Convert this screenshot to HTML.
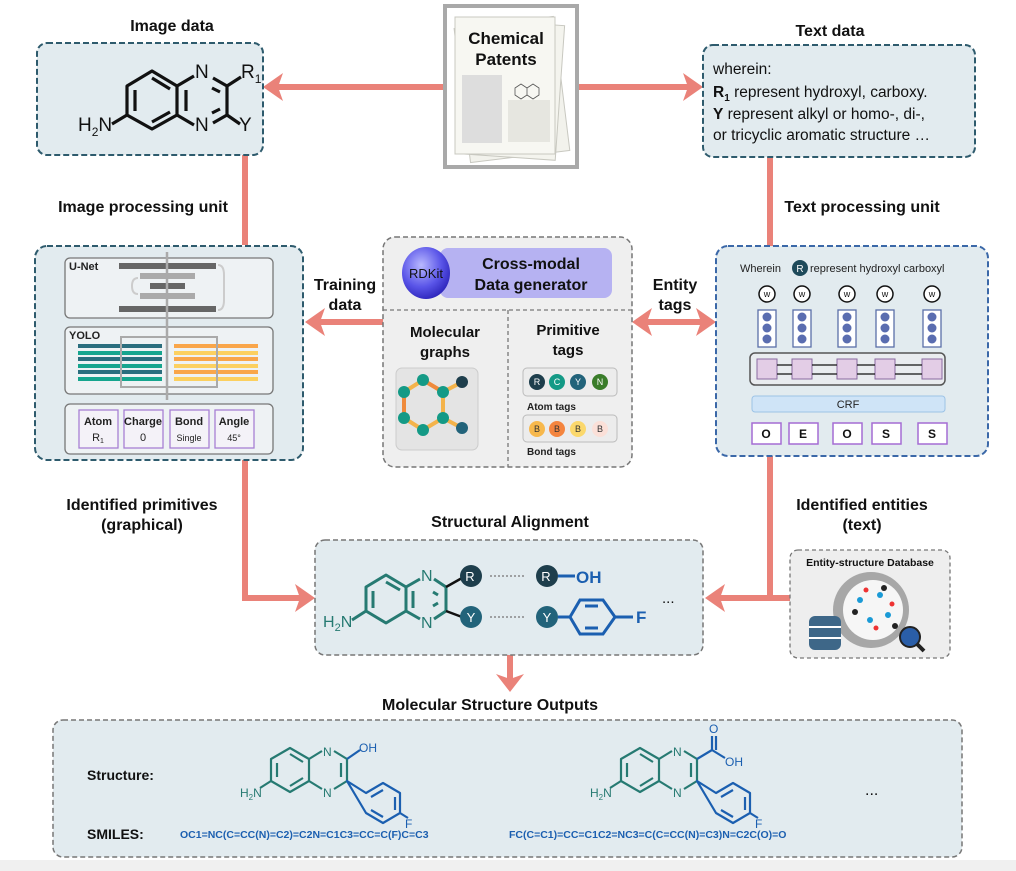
<!DOCTYPE html>
<html><head><meta charset="utf-8"><style>
html,body{margin:0;padding:0;background:#fff}
svg{display:block;font-family:"Liberation Sans",Arial,sans-serif}
.b{font-weight:bold}
</style></head><body>
<svg width="1016" height="871" viewBox="0 0 1016 871" xmlns="http://www.w3.org/2000/svg">
<defs>
<radialGradient id="rd" cx="0.4" cy="0.35" r="0.7"><stop offset="0" stop-color="#b9b9ff"/><stop offset="0.6" stop-color="#5a55e8"/><stop offset="1" stop-color="#2a22b8"/></radialGradient>
</defs>
<rect x="0" y="860" width="1016" height="11" fill="#f0f0f0"/>

<g stroke="#ea8279" stroke-width="6" fill="none">
<line x1="443" y1="87" x2="272" y2="87"/>
<line x1="577" y1="87" x2="694" y2="87"/>
<line x1="245" y1="155" x2="245" y2="245"/>
<line x1="770" y1="157" x2="770" y2="246"/>
<line x1="383" y1="322" x2="314" y2="322"/>
<line x1="645" y1="322" x2="703" y2="322"/>
<polyline points="245,460 245,598 305,598"/>
<polyline points="770,456 770,598 716,598"/>
<line x1="770" y1="598" x2="790" y2="598"/>
<line x1="510" y1="655" x2="510" y2="680"/>
</g>
<g fill="#ea8279">
<polygon points="263,87 283,73 278,87 283,101"/>
<polygon points="703,87 683,73 688,87 683,101"/>
<polygon points="305,322 325,308 320,322 325,336"/>
<polygon points="632,322 652,308 647,322 652,336"/>
<polygon points="716,322 696,308 701,322 696,336"/>
<polygon points="315,598 295,584 300,598 295,612"/>
<polygon points="705,598 725,584 720,598 725,612"/>
<polygon points="510,692 496,674 510,679 524,674"/>
</g>

<g class="b" font-size="16" fill="#111" text-anchor="middle">
<text x="172" y="31">Image data</text>
<text x="830" y="36">Text data</text>
<text x="143" y="212">Image processing unit</text>
<text x="862" y="212">Text processing unit</text>
<text x="345" y="290">Training</text><text x="345" y="310">data</text>
<text x="675" y="290">Entity</text><text x="675" y="310">tags</text>
<text x="142" y="510">Identified primitives</text><text x="142" y="530">(graphical)</text>
<text x="862" y="510">Identified entities</text><text x="862" y="530">(text)</text>
<text x="510" y="527">Structural  Alignment</text>
<text x="490" y="710">Molecular Structure Outputs</text>
</g>

<!-- Image data box -->
<rect x="37" y="43" width="226" height="112" rx="10" fill="#e2ebef" stroke="#2e5b6d" stroke-width="2" stroke-dasharray="6,3"/>
<g stroke="#111" stroke-width="3.2" fill="none" stroke-linejoin="round">
<path d="M152,71 L177,86 L177,115 L152,129 L127,115 L127,86 Z"/>
<path d="M177,86 L194,76 M177,115 L194,125"/>
<path d="M213,78 L227,86 L227,115 L213,123"/>
<path d="M227,86 L241,77 M227,115 L240,124 M127,115 L112,124"/>
<path d="M135,90 L135,111 M152,78 L170,89 M152,122 L170,112 M186,90 L186,111 M212,88 L220,92 M212,113 L220,109"/>
</g>
<g font-size="19" fill="#111">
<text x="195" y="78">N</text><text x="195" y="131">N</text>
<text x="241" y="78">R<tspan font-size="12" dy="5">1</tspan></text>
<text x="239" y="131">Y</text>
<text x="78" y="131">H<tspan font-size="12" dy="5">2</tspan><tspan dy="-5">N</tspan></text>
</g>

<!-- Patents -->
<rect x="445" y="6" width="132" height="161" fill="#fff" stroke="#a9a9a9" stroke-width="4"/>
<g stroke="#c8c8c0" stroke-width="1">
<rect x="462" y="22" width="100" height="135" fill="#f2f2ec" transform="rotate(-7 512 90)"/>
<rect x="460" y="22" width="100" height="135" fill="#f4f4ee" transform="rotate(4 510 90)"/>
<rect x="455" y="17" width="100" height="137" fill="#f7f7f2"/>
</g>
<g fill="#ddd"><rect x="462" y="75" width="40" height="68"/><rect x="508" y="100" width="42" height="42" fill="#e6e6e0"/></g>
<path d="M515,88 l6,-4 6,4 0,7 -6,4 -6,-4z M527,88 l6,-4 6,4 0,7 -6,4 -6,-4z" stroke="#555" stroke-width="0.8" fill="none"/>
<g class="b" font-size="17" fill="#111" text-anchor="middle"><text x="506" y="44">Chemical</text><text x="506" y="65">Patents</text></g>

<!-- Text data box -->
<rect x="703" y="45" width="272" height="112" rx="10" fill="#e2ebef" stroke="#2e5b6d" stroke-width="2" stroke-dasharray="6,3"/>
<g font-size="15.5" fill="#111">
<text x="713" y="74">wherein:</text>
<text x="713" y="97"><tspan class="b">R<tspan font-size="10" dy="4">1</tspan></tspan><tspan dy="-4"> represent hydroxyl, carboxy.</tspan></text>
<text x="713" y="119"><tspan class="b">Y</tspan> represent alkyl or homo-, di-,</text>
<text x="713" y="140">or tricyclic aromatic structure …</text>
</g>

<!-- Image processing unit -->
<rect x="35" y="246" width="268" height="214" rx="12" fill="#e2ebef" stroke="#2e5b6d" stroke-width="2" stroke-dasharray="6,3"/>
<rect x="65" y="258" width="208" height="60" rx="5" fill="#eef2f4" stroke="#777" stroke-width="1.3"/>
<rect x="65" y="327" width="208" height="67" rx="5" fill="#eef2f4" stroke="#777" stroke-width="1.3"/>
<rect x="65" y="404" width="208" height="50" rx="5" fill="#eef2f4" stroke="#777" stroke-width="1.3"/>
<g fill="#666"><rect x="119" y="263" width="97" height="6"/><rect x="150" y="283" width="35" height="6"/><rect x="119" y="306" width="97" height="6"/></g>
<g fill="#aaa"><rect x="140" y="273" width="55" height="6"/><rect x="140" y="293" width="55" height="6"/></g>
<path d="M138,278 q-6,0 -6,8 q0,8 6,8 M218,265 q6,0 6,10 v25 q0,10 -6,10" stroke="#ccc" stroke-width="2" fill="none"/>
<g fill="#2a6e7e"><rect x="78" y="344" width="84" height="4"/><rect x="78" y="357" width="84" height="4"/><rect x="78" y="370" width="84" height="4"/></g>
<g fill="#16a58e"><rect x="78" y="351" width="84" height="4"/><rect x="78" y="364" width="84" height="4"/><rect x="78" y="377" width="84" height="4"/></g>
<g fill="#f9a64a"><rect x="174" y="344" width="84" height="4"/><rect x="174" y="357" width="84" height="4"/><rect x="174" y="370" width="84" height="4"/></g>
<g fill="#fcd060"><rect x="174" y="351" width="84" height="4"/><rect x="174" y="364" width="84" height="4"/><rect x="174" y="377" width="84" height="4"/></g>
<rect x="121" y="337" width="96" height="50" fill="none" stroke="#aaa" stroke-width="2"/>
<line x1="167" y1="252" x2="167" y2="400" stroke="#aaa" stroke-width="2.5"/>
<g class="b" font-size="11" fill="#222"><text x="69" y="270">U-Net</text><text x="69" y="339">YOLO</text></g>
<g fill="#f4f2f8" stroke="#a77fd4" stroke-width="1.3">
<rect x="79" y="410" width="39" height="38"/><rect x="124" y="410" width="39" height="38"/><rect x="170" y="410" width="39" height="38"/><rect x="215" y="410" width="39" height="38"/>
</g>
<g font-size="11" fill="#222" text-anchor="middle">
<text class="b" x="98" y="425">Atom</text><text x="98" y="441">R<tspan font-size="7" dy="2">1</tspan></text>
<text class="b" x="143" y="425">Charge</text><text x="143" y="441">0</text>
<text class="b" x="189" y="425">Bond</text><text x="189" y="441" font-size="9">Single</text>
<text class="b" x="234" y="425">Angle</text><text x="234" y="441" font-size="9">45°</text>
</g>

<!-- Center generator -->
<rect x="383" y="237" width="249" height="230" rx="12" fill="#efefef" stroke="#777" stroke-width="1.5" stroke-dasharray="5,3"/>
<rect x="440" y="248" width="172" height="50" rx="8" fill="#b6b2f2"/>
<ellipse cx="426" cy="273" rx="24" ry="26" fill="url(#rd)"/>
<text x="426" y="278" font-size="13" fill="#111" text-anchor="middle">RDKit</text>
<g class="b" font-size="16" fill="#111" text-anchor="middle"><text x="531" y="269">Cross-modal</text><text x="531" y="290">Data generator</text></g>
<path d="M383,310 H632 M508,310 V467" stroke="#777" stroke-width="1.3" stroke-dasharray="4,3"/>
<g class="b" font-size="15" fill="#111" text-anchor="middle">
<text x="445" y="337">Molecular</text><text x="445" y="357">graphs</text>
<text x="568" y="335">Primitive</text><text x="568" y="355">tags</text>
</g>
<rect x="396" y="368" width="82" height="82" rx="6" fill="#e4e4e4" stroke="#ccc"/>
<g stroke-width="4" fill="none">
<path d="M423,380 L443,392 L443,418 L423,430 L404,418 L404,392 Z" stroke="#f4b34a"/>
<path d="M443,392 L462,382 M443,418 L462,428" stroke="#f4b34a"/>
<path d="M404,392 L404,418 M443,392 L423,380" stroke="#ef8a3c"/>
</g>
<g fill="#149a86"><circle cx="423" cy="380" r="6"/><circle cx="443" cy="392" r="6"/><circle cx="443" cy="418" r="6"/><circle cx="423" cy="430" r="6"/><circle cx="404" cy="418" r="6"/><circle cx="404" cy="392" r="6"/></g>
<circle cx="462" cy="382" r="6" fill="#1e3e4c"/><circle cx="462" cy="428" r="6" fill="#22637a"/>
<rect x="523" y="368" width="94" height="28" rx="4" fill="#ececec" stroke="#bbb"/>
<rect x="523" y="415" width="94" height="27" rx="4" fill="#ececec" stroke="#bbb"/>
<circle cx="537" cy="382" r="8" fill="#1e3e4c"/><circle cx="557" cy="382" r="8" fill="#149a86"/><circle cx="578" cy="382" r="8" fill="#22637a"/><circle cx="600" cy="382" r="8" fill="#3a7d2a"/>
<circle cx="537" cy="429" r="8" fill="#f7b84c"/><circle cx="557" cy="429" r="8" fill="#f4853f"/><circle cx="578" cy="429" r="8" fill="#fbd86c"/><circle cx="600" cy="429" r="8" fill="#fbe0d8"/>
<g font-size="9" text-anchor="middle" fill="#fff"><text x="537" y="385">R</text><text x="557" y="385">C</text><text x="578" y="385">Y</text><text x="600" y="385">N</text></g>
<g font-size="9" text-anchor="middle" fill="#333"><text x="537" y="432">B</text><text x="557" y="432">B</text><text x="578" y="432">B</text><text x="600" y="432">B</text></g>
<g class="b" font-size="10" fill="#222"><text x="527" y="410">Atom tags</text><text x="527" y="455">Bond tags</text></g>

<!-- Text processing unit -->
<rect x="716" y="246" width="272" height="210" rx="12" fill="#e2ebef" stroke="#3b68a8" stroke-width="2" stroke-dasharray="6,3"/>
<text x="740" y="272" font-size="11" fill="#222">Wherein</text>
<circle cx="800" cy="268" r="8" fill="#1e4a5a"/><text x="800" y="272" font-size="10" fill="#fff" text-anchor="middle">R</text>
<text x="810" y="272" font-size="11" fill="#222">represent hydroxyl carboxyl</text>
<g fill="#fff" stroke="#111" stroke-width="1.5"><circle cx="767" cy="294" r="8"/><circle cx="802" cy="294" r="8"/><circle cx="847" cy="294" r="8"/><circle cx="885" cy="294" r="8"/><circle cx="932" cy="294" r="8"/></g>
<g font-size="9" fill="#111" text-anchor="middle"><text x="767" y="297">w</text><text x="802" y="297">w</text><text x="847" y="297">w</text><text x="885" y="297">w</text><text x="932" y="297">w</text></g>
<g fill="#fff" stroke="#5a6fa8" stroke-width="1.3"><rect x="758" y="310" width="18" height="37"/><rect x="793" y="310" width="18" height="37"/><rect x="838" y="310" width="18" height="37"/><rect x="876" y="310" width="18" height="37"/><rect x="923" y="310" width="18" height="37"/></g>
<g fill="#5a6db0">
<circle cx="767" cy="317" r="4.5"/><circle cx="767" cy="328" r="4.5"/><circle cx="767" cy="339" r="4.5"/>
<circle cx="802" cy="317" r="4.5"/><circle cx="802" cy="328" r="4.5"/><circle cx="802" cy="339" r="4.5"/>
<circle cx="847" cy="317" r="4.5"/><circle cx="847" cy="328" r="4.5"/><circle cx="847" cy="339" r="4.5"/>
<circle cx="885" cy="317" r="4.5"/><circle cx="885" cy="328" r="4.5"/><circle cx="885" cy="339" r="4.5"/>
<circle cx="932" cy="317" r="4.5"/><circle cx="932" cy="328" r="4.5"/><circle cx="932" cy="339" r="4.5"/>
</g>
<rect x="750" y="353" width="195" height="32" rx="5" fill="#e9ecef" stroke="#555" stroke-width="1.5"/>
<g fill="#e3cde6" stroke="#8a6aa0"><rect x="757" y="359" width="20" height="20"/><rect x="792" y="359" width="20" height="20"/><rect x="837" y="359" width="20" height="20"/><rect x="875" y="359" width="20" height="20"/><rect x="922" y="359" width="20" height="20"/></g>
<g stroke="#111" stroke-width="1.2"><path d="M777,365 H792 M812,365 H837 M857,365 H875 M895,365 H922 M777,374 H792 M812,374 H837 M857,374 H875 M895,374 H922"/></g>
<rect x="752" y="396" width="193" height="16" rx="3" fill="#cfe4f7" stroke="#9cc3e6"/>
<text x="848" y="408" font-size="11" fill="#222" text-anchor="middle">CRF</text>
<g fill="#fff" stroke="#a46cd4" stroke-width="1.5"><rect x="752" y="423" width="29" height="21"/><rect x="789" y="423" width="29" height="21"/><rect x="833" y="423" width="29" height="21"/><rect x="872" y="423" width="29" height="21"/><rect x="918" y="423" width="29" height="21"/></g>
<g class="b" font-size="12" fill="#111" text-anchor="middle"><text x="766" y="438">O</text><text x="803" y="438">E</text><text x="847" y="438">O</text><text x="886" y="438">S</text><text x="932" y="438">S</text></g>

<!-- Alignment box -->
<rect x="315" y="540" width="388" height="115" rx="10" fill="#e2ebef" stroke="#777" stroke-width="1.5" stroke-dasharray="5,3"/>
<g stroke="#267a72" stroke-width="3" fill="none" stroke-linejoin="round">
<path d="M386,575 L406,587 L406,611 L386,623 L366,611 L366,587 Z"/>
<path d="M406,587 L420,579 M406,611 L420,619 M434,579 L446,587 L446,611 L434,619 M366,611 L352,620"/>
<path d="M373,591 L373,608 M386,582 L400,590 M413,591 L413,608 M433,592 L438,595 M433,606 L438,603"/>
</g>
<path d="M446,587 L462,578 M446,611 L462,617" stroke="#111" stroke-width="2.5"/>
<g font-size="16" fill="#267a72"><text x="421" y="581">N</text><text x="421" y="628">N</text><text x="323" y="627">H<tspan font-size="11" dy="4">2</tspan><tspan dy="-4">N</tspan></text></g>
<circle cx="471" cy="576" r="11" fill="#1e3e4c"/><circle cx="471" cy="617" r="11" fill="#22637a"/>
<circle cx="547" cy="576" r="11" fill="#1e3e4c"/><circle cx="547" cy="617" r="11" fill="#22637a"/>
<g font-size="13" fill="#fff" text-anchor="middle"><text x="470" y="581">R</text><text x="471" y="622">Y</text><text x="546" y="581">R</text><text x="547" y="622">Y</text></g>
<g stroke="#888" stroke-width="1.5" stroke-dasharray="2,2"><line x1="490" y1="576" x2="526" y2="576"/><line x1="490" y1="617" x2="526" y2="617"/></g>
<path d="M558,576 H575 M558,617 H570 L580,600 H603 L615,617 L603,634 H580 L570,617 M615,617 H633 M585,606 H598 M585,628 H598" stroke="#1b5fb0" stroke-width="3" fill="none"/>
<g class="b" font-size="17" fill="#1b5fb0"><text x="576" y="583">OH</text><text x="636" y="623">F</text></g>
<text x="662" y="603" font-size="15" fill="#111">...</text>

<!-- DB box -->
<rect x="790" y="550" width="160" height="108" rx="8" fill="#eee" stroke="#777" stroke-width="1.3" stroke-dasharray="4,3"/>
<text x="870" y="566" class="b" font-size="10.5" fill="#111" text-anchor="middle">Entity-structure Database</text>
<circle cx="871" cy="610" r="38" fill="#a7a7a7"/><circle cx="873" cy="610" r="30" fill="#f6f6f6"/>
<g fill="#1a9ad6"><circle cx="860" cy="600" r="3"/><circle cx="880" cy="595" r="3"/><circle cx="870" cy="620" r="3"/><circle cx="888" cy="615" r="3"/></g>
<g fill="#e33"><circle cx="866" cy="590" r="2.5"/><circle cx="892" cy="604" r="2.5"/><circle cx="876" cy="628" r="2.5"/></g>
<g fill="#222"><circle cx="855" cy="612" r="3"/><circle cx="884" cy="588" r="3"/><circle cx="895" cy="626" r="3"/></g>
<rect x="809" y="616" width="32" height="34" rx="6" fill="#3e6788"/>
<path d="M809,627 H841 M809,638 H841" stroke="#fff" stroke-width="2"/>
<circle cx="910" cy="637" r="10" fill="#2a5ea8" stroke="#222" stroke-width="2"/><line x1="917" y1="644" x2="924" y2="651" stroke="#222" stroke-width="4"/>

<!-- Bottom output box -->
<rect x="53" y="720" width="909" height="137" rx="10" fill="#e2ebef" stroke="#777" stroke-width="1.5" stroke-dasharray="5,3"/>
<g class="b" font-size="14" fill="#111"><text x="87" y="780">Structure:</text><text x="87" y="839">SMILES:</text></g>
<g class="b" font-size="10.5" fill="#1b5fb0">
<text x="180" y="838">OC1=NC(C=CC(N)=C2)=C2N=C1C3=CC=C(F)C=C3</text>
<text x="509" y="838">FC(C=C1)=CC=C1C2=NC3=C(C=CC(N)=C3)N=C2C(O)=O</text>
</g>
<!-- molecule 1 -->
<g stroke="#267a72" stroke-width="2.2" fill="none" stroke-linejoin="round">
<path d="M290,748 L309,759 L309,781 L290,792 L271,781 L271,759 Z M309,759 L322,751 M309,781 L322,789 M271,781 L260,788"/>
<path d="M277,763 L277,777 M290,754 L303,762 M290,786 L303,778"/>
<path d="M334,751 L347,759 L347,781 L334,789 M341,763 L341,777"/>
</g>
<path d="M347,759 L360,750 M347,781 L366,793 L383,783 L400,793 L400,813 L383,823 L366,813 Z M371,797 L383,790 M395,797 L395,810 M371,810 L383,817 M400,813 L408,818" stroke="#1b5fb0" stroke-width="2.2" fill="none" stroke-linejoin="round"/>
<g font-size="12" fill="#267a72"><text x="323" y="756">N</text><text x="323" y="797">N</text><text x="240" y="797">H<tspan font-size="8" dy="3">2</tspan><tspan dy="-3">N</tspan></text></g>
<g font-size="12" fill="#1b5fb0"><text x="359" y="752">OH</text><text x="405" y="828">F</text></g>
<!-- molecule 2 -->
<g stroke="#267a72" stroke-width="2.2" fill="none" stroke-linejoin="round">
<path d="M640,748 L659,759 L659,781 L640,792 L621,781 L621,759 Z M659,759 L672,751 M659,781 L672,789 M621,781 L610,788"/>
<path d="M627,763 L627,777 M640,754 L653,762 M640,786 L653,778"/>
<path d="M684,751 L697,759 L697,781 L684,789 M691,763 L691,777"/>
</g>
<path d="M697,759 L712,750 L712,736 M716,736 V750 M712,750 L725,758 M697,781 L716,793 L733,783 L750,793 L750,813 L733,823 L716,813 Z M721,797 L733,790 M745,797 L745,810 M721,810 L733,817 M750,813 L758,818" stroke="#1b5fb0" stroke-width="2.2" fill="none" stroke-linejoin="round"/>
<g font-size="12" fill="#267a72"><text x="673" y="756">N</text><text x="673" y="797">N</text><text x="590" y="797">H<tspan font-size="8" dy="3">2</tspan><tspan dy="-3">N</tspan></text></g>
<g font-size="12" fill="#1b5fb0"><text x="709" y="733">O</text><text x="725" y="766">OH</text><text x="755" y="828">F</text></g>
<text x="865" y="795" font-size="16" fill="#111">...</text>
</svg>
</body></html>
